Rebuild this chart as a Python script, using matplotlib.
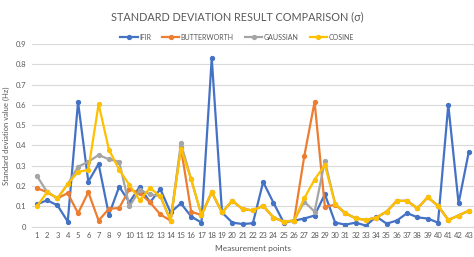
import numpy as np
import matplotlib.pyplot as plt

plt.rcParams["font.family"] = ["Lato", "DejaVu Sans"]

points = np.arange(1, 44)

ifir = [0.11, 0.13, 0.105, 0.025, 0.614, 0.222, 0.309, 0.058, 0.197, 0.12,
        0.197, 0.12, 0.185, 0.07, 0.115, 0.05, 0.02, 0.83, 0.07, 0.02,
        0.013, 0.017, 0.22, 0.118, 0.02, 0.03, 0.04, 0.055, 0.16, 0.02,
        0.01, 0.02, 0.005, 0.05, 0.015, 0.03, 0.067, 0.046, 0.04, 0.02,
        0.6, 0.115, 0.37]
butterworth = [0.19, 0.17, 0.14, 0.165, 0.066, 0.17, 0.03, 0.088, 0.092, 0.185,
               0.165, 0.12, 0.06, 0.03, 0.39, 0.074, 0.057, 0.17, 0.07, 0.127,
               0.087, 0.08, 0.103, 0.045, 0.025, 0.03, 0.348, 0.615, 0.098, 0.108,
               0.066, 0.041, 0.033, 0.045, 0.074, 0.127, 0.127, 0.09, 0.145, 0.103,
               0.033, 0.055, 0.079]
gaussian = [0.25, 0.17, 0.14, 0.21, 0.295, 0.32, 0.353, 0.332, 0.32, 0.1,
            0.18, 0.16, 0.15, 0.03, 0.41, 0.233, 0.057, 0.17, 0.07, 0.127,
            0.087, 0.08, 0.103, 0.045, 0.025, 0.03, 0.123, 0.074, 0.323, 0.112,
            0.066, 0.041, 0.033, 0.045, 0.074, 0.127, 0.127, 0.09, 0.145, 0.103,
            0.033, 0.055, 0.079]
cosine = [0.1, 0.17, 0.14, 0.21, 0.27, 0.28, 0.604, 0.38, 0.28, 0.205,
          0.13, 0.19, 0.15, 0.03, 0.385, 0.233, 0.057, 0.17, 0.07, 0.127,
          0.087, 0.08, 0.103, 0.045, 0.025, 0.03, 0.14, 0.232, 0.304, 0.112,
          0.066, 0.041, 0.033, 0.045, 0.074, 0.127, 0.127, 0.09, 0.145, 0.103,
          0.033, 0.055, 0.079]

series = [("IFIR", ifir, "#4472C4"),
          ("BUTTERWORTH", butterworth, "#ED7D31"),
          ("GAUSSIAN", gaussian, "#A5A5A5"),
          ("COSINE", cosine, "#FFC000")]

text_color = "#595959"

fig = plt.figure(figsize=(4.74, 2.57), dpi=100)
ax = fig.add_axes([0.067, 0.118, 0.933, 0.711])

for name, values, color in series:
    ax.plot(points, values, color=color, linewidth=1.6, marker="o",
            markersize=2.8, label=name)

ax.set_xlim(0.5, 43.5)
ax.set_ylim(0, 0.9)
ax.set_yticks(np.arange(0, 0.91, 0.1))
ax.set_yticklabels(["0"] + [f"{v:.1f}" for v in np.arange(0.1, 0.91, 0.1)])
ax.set_xticks(points)
ax.grid(axis="y", color="#D9D9D9", linewidth=0.8)
ax.set_axisbelow(True)
for side in ["top", "right", "left"]:
    ax.spines[side].set_visible(False)
ax.spines["bottom"].set_color("#D9D9D9")
ax.tick_params(length=0, labelsize=5.5, colors=text_color, pad=4)

ax.set_xlabel("Measurement points", fontsize=6, color=text_color, labelpad=4)
ax.set_ylabel("Standard deviation value (Hz)", fontsize=5.5, color=text_color,
              labelpad=4)

fig.text(0.5, 0.935, "STANDARD DEVIATION RESULT COMPARISON (σ)", ha="center",
         va="center", fontsize=7.8, color=text_color)
fig.legend(loc="center", bbox_to_anchor=(0.5, 0.855), ncol=4, frameon=False,
           fontsize=5, labelcolor=text_color, handlelength=2.5,
           columnspacing=1.6, handletextpad=0.2)

fig.savefig("out.png", dpi=100)
